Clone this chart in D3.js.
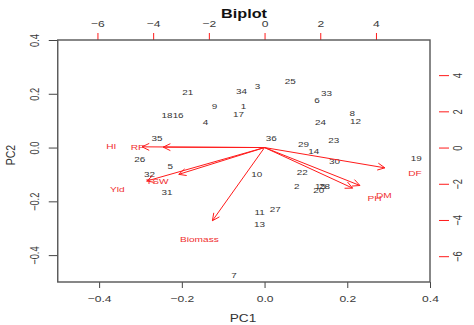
<!DOCTYPE html>
<html>
<head>
<meta charset="utf-8">
<script src="https://cdn.jsdelivr.net/npm/d3@7"></script>
<style>
  html, body { margin: 0; padding: 0; background: #fff; }
  svg text { font-family: "Liberation Sans", Arial, sans-serif; }
</style>
</head>
<body>
<svg id="chart" width="474" height="325"></svg>
<script>
// ---- Data ----
const genotypes = ["21","34","3","25","33","6","9","1","17","18","16","4","8","12","24","35","36","29","23","14","30","19","26","5","32","10","22","31","2","15","28","20","11","27","13","7"];
const pc1Scores = [-0.186,-0.056,-0.017,0.062,0.150,0.127,-0.121,-0.051,-0.063,-0.236,-0.209,-0.143,0.212,0.220,0.135,-0.260,0.016,0.094,0.167,0.119,0.169,0.367,-0.302,-0.228,-0.278,-0.019,0.091,-0.236,0.078,0.135,0.145,0.131,-0.012,0.026,-0.012,-0.074];
const pc2Scores = [0.204,0.210,0.229,0.245,0.202,0.177,0.155,0.155,0.125,0.121,0.121,0.093,0.128,0.099,0.093,0.035,0.035,0.013,0.028,-0.015,-0.050,-0.040,-0.044,-0.071,-0.098,-0.098,-0.092,-0.168,-0.145,-0.143,-0.143,-0.158,-0.241,-0.229,-0.284,-0.474];

const traits = ["HI","RP","Yld","TSW","Biomass","DF","PH","DM"];
const pc1Loadings = [-5.50,-4.55,-5.29,-3.85,-2.34,5.40,3.95,4.28];
const pc2Loadings = [0.05,0.03,-2.31,-1.85,-5.05,-1.40,-2.80,-2.62];

const pcTicks = [-0.4,-0.2,0.0,0.2,0.4];
const loadTicks = [-6,-4,-2,0,2,4];
const rightTicks = [-6,-4,-2,0,2,4];

// ---- Layout ----
const svg = d3.select("#chart");
const L = 57.75, R = 430, T = 40, B = 282;
const SX = 1.3; // horizontal stretch of the reference
const k = 14.85;

const x = d3.scaleLinear().domain([-0.5, 0.4]).range([L, R]);
const y = d3.scaleLinear().domain([-0.5, 0.4]).range([B, T]);
const x2 = d3.scaleLinear().domain([-0.5 * k, 0.4 * k]).range([L, R]);
const y2 = d3.scaleLinear().domain([-0.5 * k, 0.4 * k]).range([B, T]);

const tickColor = "#3a3a3a";
const red = "#ff1a1a";

// Bottom axis
const gb = svg.append("g").attr("transform", `translate(0,${B})`)
  .call(d3.axisBottom(x).tickValues(pcTicks).tickSize(6).tickFormat(d3.format(".1f")));
gb.select(".domain").remove();
gb.selectAll("line").attr("stroke", "#444");
gb.selectAll("text").attr("y", 17).attr("dy", "0.35em").attr("font-size", 9.3)
  .attr("fill", tickColor).attr("transform", `scale(${SX},1)`);

// Left axis
const gl = svg.append("g").attr("transform", `translate(${L},0)`)
  .call(d3.axisLeft(y).tickValues(pcTicks).tickSize(9).tickFormat(d3.format(".1f")));
gl.select(".domain").remove();
gl.selectAll("line").attr("stroke", "#444");
gl.selectAll("text").attr("x", null).attr("y", null).attr("dy", "0.35em")
  .attr("font-size", 9.3).attr("fill", tickColor).attr("text-anchor", "middle")
  .attr("transform", `translate(-23,0) scale(${SX},1) rotate(-90)`);

// Top axis (loadings)
const gt = svg.append("g").attr("transform", `translate(0,${T})`)
  .call(d3.axisTop(x2).tickValues(loadTicks).tickSize(7).tickFormat(d3.format("d")));
gt.select(".domain").remove();
gt.selectAll("line").attr("stroke", red);
gt.selectAll("text").attr("y", -16).attr("dy", "0.35em").attr("font-size", 9.3)
  .attr("fill", tickColor).attr("transform", `scale(${SX},1)`);

// Right axis (loadings)
const gr = svg.append("g").attr("transform", `translate(${R + 9},0)`)
  .call(d3.axisRight(y2).tickValues(rightTicks).tickSize(10).tickFormat(d3.format("d")));
gr.select(".domain").remove();
gr.selectAll("line").attr("stroke", red);
gr.selectAll("text").attr("x", null).attr("y", null).attr("dy", "0.35em")
  .attr("font-size", 9.3).attr("fill", tickColor).attr("text-anchor", "middle")
  .attr("transform", `translate(19,0) scale(${SX},1) rotate(-90)`);

// Box
svg.append("rect").attr("x", L).attr("y", T).attr("width", R - L).attr("height", B - T)
  .attr("fill", "none").attr("stroke", "#555").attr("stroke-width", 1.4);

// Title and axis labels
function stretchedText(px, py, txt, size, opts = {}) {
  const t = svg.append("text")
    .attr("transform", `translate(${px},${py}) scale(${SX},1)` + (opts.rot ? ` rotate(${opts.rot})` : ""))
    .attr("text-anchor", "middle").attr("dy", "0.35em")
    .attr("font-size", size).attr("fill", opts.fill || "#222").text(txt);
  if (opts.bold) t.attr("font-weight", "bold");
  return t;
}
stretchedText(244, 14, "Biplot", 12.5, { bold: true, fill: "#111" });
stretchedText(243, 318, "PC1", 10.5, { fill: "#333" });
stretchedText(10, 155, "PC2", 10.5, { fill: "#333", rot: -90 });

// Genotype score labels
const pts = genotypes.map((g, i) => ({ g, px: pc1Scores[i], py: pc2Scores[i] }));
svg.append("g").selectAll("text").data(pts).join("text")
  .attr("transform", d => `translate(${x(d.px)},${y(d.py)}) scale(${SX},1)`)
  .attr("text-anchor", "middle").attr("dy", "0.35em")
  .attr("font-size", 7.6).attr("fill", "#333").text(d => d.g);

// Loading arrows (drawn at 0.8 of the label position, as R's biplot does)
const arrows = traits.map((t, i) => ({ t, lx: pc1Loadings[i], ly: pc2Loadings[i] }));
const ox = x2(0), oy = y2(0);
const ga = svg.append("g").attr("stroke", red).attr("stroke-width", 1).attr("fill", "none");
arrows.forEach(a => {
  const tx = x2(a.lx * 0.8), ty = y2(a.ly * 0.8);
  ga.append("line").attr("x1", ox).attr("y1", oy).attr("x2", tx).attr("y2", ty);
  const ang = Math.atan2(ty - oy, tx - ox);
  const hl = 8, spread = Math.PI / 7;
  [ang + Math.PI - spread, ang + Math.PI + spread].forEach(b => {
    ga.append("line").attr("x1", tx).attr("y1", ty)
      .attr("x2", tx + hl * Math.cos(b)).attr("y2", ty + hl * Math.sin(b));
  });
});
svg.append("g").selectAll("text").data(arrows).join("text")
  .attr("transform", d => `translate(${x2(d.lx)},${y2(d.ly)}) scale(${SX},1)`)
  .attr("text-anchor", "middle").attr("dy", "0.35em")
  .attr("font-size", 7.8).attr("fill", "#f03030").text(d => d.t);
</script>
</body>
</html>
